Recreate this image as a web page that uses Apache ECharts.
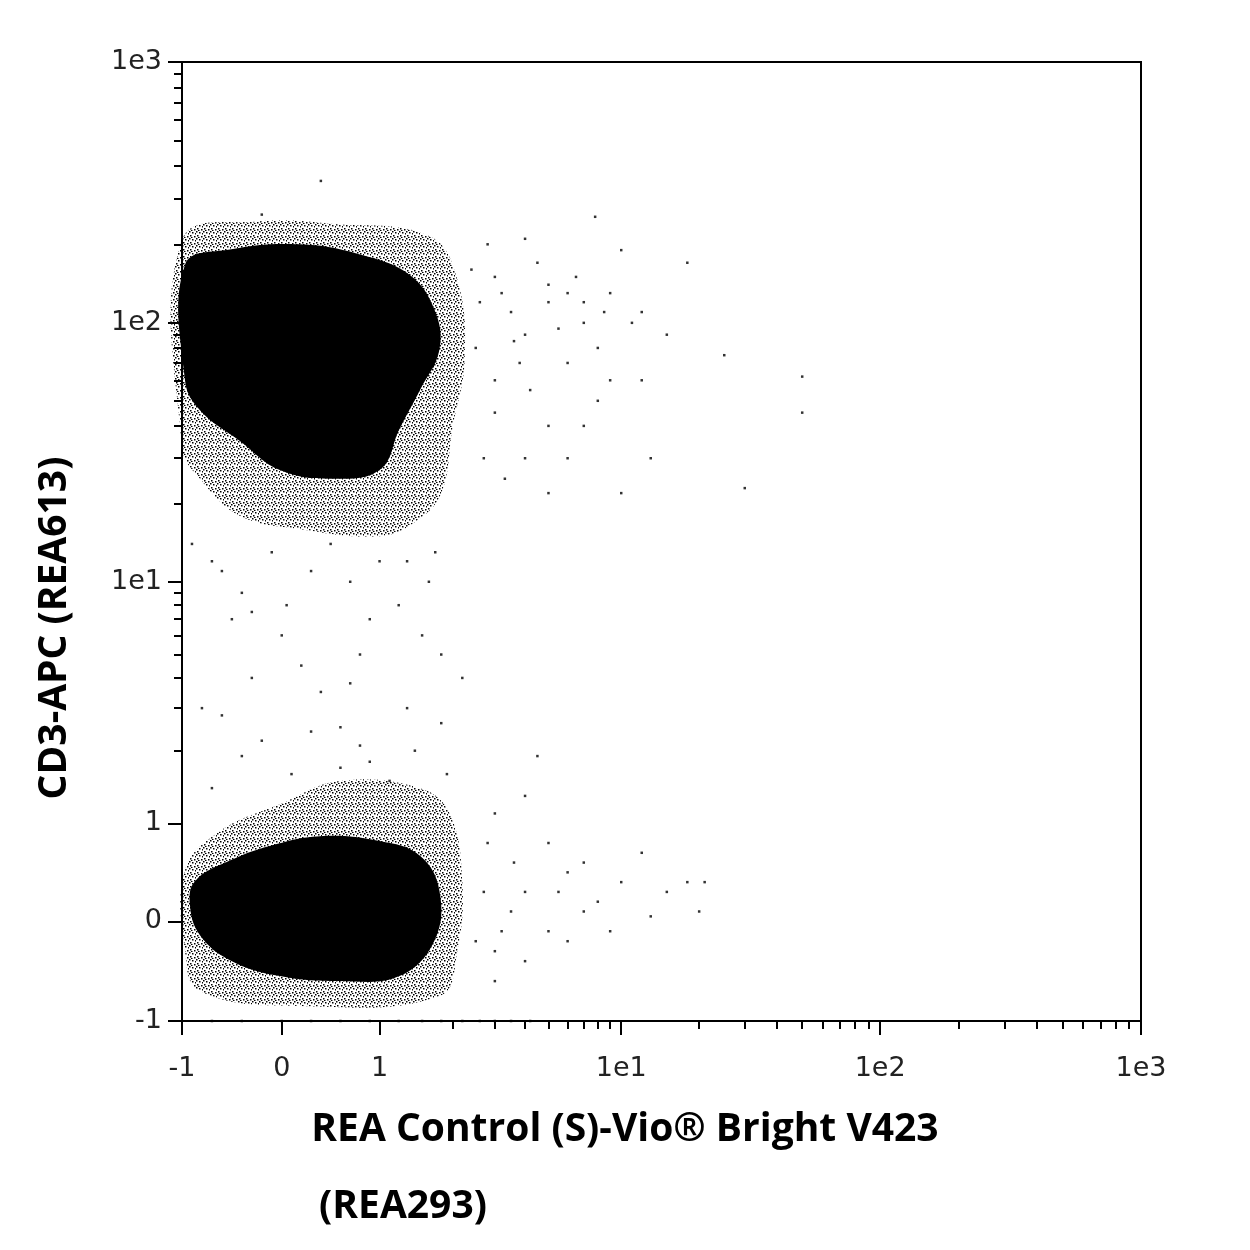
<!DOCTYPE html>
<html><head><meta charset="utf-8">
<script src="https://cdn.jsdelivr.net/npm/echarts@6/dist/echarts.min.js"></script>
<style>html,body{margin:0;background:#fff}#c{width:1250px;height:1250px}</style>
</head><body><div id="c"></div>
<script>
// axis anchor values and tick labels
const anchorValues = [-1, 0, 1, 10, 100, 1000];
const anchorFrac = [0, 0.104, 0.206, 0.458, 0.728, 1];
const tickLabels = ['-1', '0', '1', '1e1', '1e2', '1e3'];
// dense cluster outlines (data units)
const topCore = [[-0.97,167],[-0.52,191],[0.18,200],[0.8,183],[1.33,153],[1.69,112],[1.77,79],[1.47,55],[1.21,39],[1,27],[0.49,25],[-0.02,27],[-0.42,35],[-0.82,46],[-0.97,60]];
const topHalo = [[-1,208],[-0.22,245],[0.49,240],[1.61,215],[2.1,146],[2.25,72],[2.0,39],[1.8,22],[1.4,17],[1,15],[0.18,16],[-0.42,18],[-0.82,25],[-1,33]];
const botCore = [[-0.87,0.41],[-0.52,0.62],[-0.12,0.77],[0.39,0.87],[1,0.82],[1.47,0.67],[1.77,0.31],[1.69,-0.19],[1.21,-0.55],[0.59,-0.6],[-0.02,-0.55],[-0.52,-0.39],[-0.82,-0.14],[-0.92,0.16]];
const botHalo = [[-0.97,0.52],[-0.62,0.92],[-0.02,1.2],[0.59,1.5],[1.47,1.4],[1.95,1.1],[2.2,0.41],[2.1,-0.29],[1.77,-0.75],[0.18,-0.85],[-0.82,-0.7],[-0.97,-0.29]];
// sparse events
const sparse = [[3,150],[4,90],[5,120],[6,70],[7,100],[7.8,255],[10,190],[12,110],[13,30],[18,170],[25,75],[30,23],[50,62],[50,45],[10,22],[5,40],[3,60],[4,30],[5,22],[7,40],[8,80],[9,60],[6,130],[3.5,110],[2.8,200],[2.5,80],[3,45],[4.5,170],[5.5,95],[6.5,150],[8.5,110],[11,100],[3.2,130],[2.6,120],[3.8,70],[4.2,55],[6,30],[9,130],[15,90],[12,60],[2.7,30],[3.3,25],[5,140],[4,210],[7,120],[8,50],[2.4,160],[3.6,85],
  [0.4,350],[-0.2,260],
  [-0.5,7],[0,6],[0.8,5],[1.2,8],[-0.3,4],[0.4,3.5],[0.6,2.5],[-0.2,2.2],[1.3,3],[1.5,6],[-0.6,2.8],[0.1,1.6],[0.9,1.8],[1.8,2.6],[-0.4,9],[0.3,11],[1,12],[1.6,10],[-0.7,12],[0.5,14],[1.8,5],[0.2,4.5],[-0.8,3],[0.7,3.8],[2.2,4],[1.1,1.5],
  [-0.6,11],[-0.1,13],[0.7,10],[1.3,12],[-0.3,7.5],[0.9,7],[0.05,8],[1.7,13],[-0.9,14],[0.6,1.7],[-0.4,1.9],[0.3,2.4],[1.4,2],[-0.7,1.4],[1.9,1.6],[0.8,2.1],
  [4,0.3],[5,0.8],[6,0.5],[8,0.2],[10,0.4],[12,0.7],[15,0.3],[18,0.4],[20,0.1],[3,-0.3],[6,-0.2],[4,-0.4],[3.5,0.1],[7,0.1],[9,-0.1],[4.5,1.9],[3,1.1],[3.6,0.6],[2.8,0.8],[5,-0.1],[3,-0.6],[2.5,-0.2],[7,0.6],[4,1.3],[21,0.4],[13,0.05],[2.7,0.3],[3.2,-0.1],[5.5,0.3],
  [-0.7,-1],[-0.4,-1],[0,-1],[0.3,-1],[0.6,-1],[0.9,-1],[1.2,-1],[1.5,-1],[1.8,-1],[2.2,-1],[2.6,-1],[3,-1],[3.5,-1],[4.2,-1]];

function tf(v){
  for(let i=0;i<anchorValues.length-1;i++){
    const a=anchorValues[i], b=anchorValues[i+1];
    if(v<=b||i===anchorValues.length-2){
      let t = (a>=1) ? (Math.log10(v)-Math.log10(a))/(Math.log10(b)-Math.log10(a)) : (v-a)/(b-a);
      return anchorFrac[i]+t*(anchorFrac[i+1]-anchorFrac[i]);
    }
  }
}
const majorT = anchorValues.map(tf);
const minorVals=[]; [1,10,100].forEach(d=>{for(let k=2;k<=9;k++)minorVals.push(d*k);});
const minorT = minorVals.map(tf);
const P = a=>a.map(p=>[tf(p[0]),tf(p[1])]);

const pat = document.createElement('canvas'); pat.width=7; pat.height=7;
const pc = pat.getContext('2d'); pc.fillStyle='#000';
[[0,0],[3,1],[1,4],[5,5],[6,2],[2,6]].forEach(q=>pc.fillRect(q[0],q[1],1.5,1.5));

function polySeries(pts, fill){
  return {type:'custom', coordinateSystem:'cartesian2d', data:[0], silent:true,
    renderItem:(params,api)=>({type:'polygon', shape:{points:pts.map(p=>api.coord(p)), smooth:0.4},
      style:{fill:fill}})};
}
const gridBox={left:182,top:62,width:959,height:959};
const lbl={fontFamily:'DejaVu Sans',fontSize:27,color:'#222'};
function mkAxis(isX, major){
  return {type:'value', min:0, max:1, gridIndex:0, position: isX?'bottom':'left',
    axisLine:{show:major, lineStyle:{color:'#000',width:2}},
    splitLine:{show:false},
    axisTick:{show:true, inside:false, length: major?14:8, lineStyle:{color:'#000',width:2}, customValues: major?majorT:minorT},
    axisLabel:{show:major, customValues:majorT, formatter:v=>{const i=majorT.findIndex(m=>Math.abs(m-v)<1e-6);return i>=0?tickLabels[i]:'';}, margin: isX?34:20, ...lbl}};
}
const chart = echarts.init(document.getElementById('c'));
chart.setOption({
  animation:false,
  grid:gridBox,
  xAxis:[mkAxis(true,true), mkAxis(true,false)],
  yAxis:[mkAxis(false,true), mkAxis(false,false)],
  series:[
    polySeries(P(topHalo), {image:pat, repeat:'repeat'}),
    polySeries(P(botHalo), {image:pat, repeat:'repeat'}),
    polySeries(P(topCore), '#000'),
    polySeries(P(botCore), '#000'),
    {type:'scatter', data:P(sparse), symbol:'rect', symbolSize:2.5, itemStyle:{color:'#000'}, silent:true}
  ],
  graphic:[
    {type:'rect', shape:{x:182,y:62,width:959,height:959}, style:{fill:null, stroke:'#000', lineWidth:2}, silent:true},
    {type:'text', x:625, y:1130, style:{text:'REA Control (S)-Vio® Bright V423', font:'bold 39px "Open Sans"', fill:'#000', align:'center', verticalAlign:'middle'}},
    {type:'text', x:403, y:1207, style:{text:'(REA293)', font:'bold 39px "Open Sans"', fill:'#000', align:'center', verticalAlign:'middle'}},
    {type:'text', x:55, y:628, rotation:Math.PI/2, style:{text:'CD3-APC (REA613)', font:'bold 39px "Open Sans"', fill:'#000', align:'center', verticalAlign:'middle'}}
  ]
});
</script></body></html>
